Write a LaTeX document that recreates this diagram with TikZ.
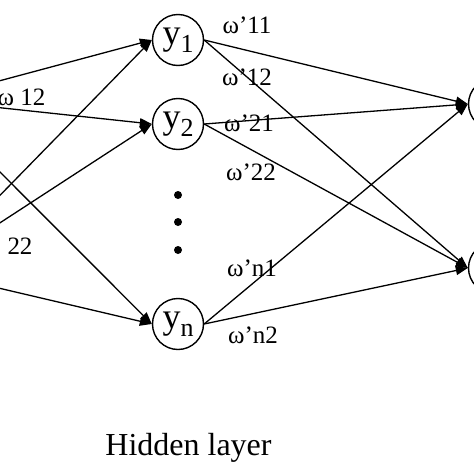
\documentclass[tikz,border=0pt]{standalone}
\usepackage{fontspec}
\setmainfont{Liberation Serif}
\usetikzlibrary{arrows.meta}
\newcommand\ylab[1]{\fontsize{36}{36}\selectfont y\raisebox{-8pt}{\fontsize{26}{26}\selectfont #1}}
\begin{document}
\begin{tikzpicture}[x=1pt,y=-1pt,
  neuron/.style={circle,draw,line width=1.4pt,minimum size=51pt,inner sep=0pt},
  conn/.style={line width=1.3pt,-{Triangle[length=12pt,width=9pt]}},
  wlabel/.style={inner sep=0pt,font=\fontsize{25}{25}\selectfont},
  dotmark/.style={circle,fill,inner sep=0pt,minimum size=8pt}]
\useasboundingbox (0,0) rectangle (474,474);
\clip (0,0) rectangle (474,474);
% input side (off canvas)
\coordinate (x1) at (-72,100);
\coordinate (x2) at (-74,271);
% hidden layer
\node[neuron] (y1) at (178,40) {\ylab{1}};
\node[neuron] (y2) at (178,124) {\ylab{2}};
\node[neuron] (yn) at (178,324) {\ylab{n}};
\node[dotmark] (d1) at (178,195) {};
\node[dotmark] (d2) at (178,222) {};
\node[dotmark] (d3) at (178,250) {};
% output side (mostly off canvas)
\node[neuron] (z1) at (494,104) {};
\node[neuron] (z2) at (494,268) {};
% connectors input -> hidden
\draw[conn] (x1) -- (y1.west);
\draw[conn] (x1) -- (y2.west);
\draw[conn] (x1) -- (yn.west);
\draw[conn] (x2) -- (y1.west);
\draw[conn] (x2) -- (y2.west);
\draw[conn] (x2) -- (yn.west);
% connectors hidden -> output
\draw[conn] (y1.east) -- (z1.west);
\draw[conn] (y1.east) -- (z2.west);
\draw[conn] (y2.east) -- (z1.west);
\draw[conn] (y2.east) -- (z2.west);
\draw[conn] (yn.east) -- (z1.west);
\draw[conn] (yn.east) -- (z2.west);
% weight labels
\node[wlabel,anchor=east] (w12) at (45.5,97) {ω 12};
\node[wlabel] (w22) at (20,246) {22};
\node[wlabel] (v11) at (247,25) {ω’11};
\node[wlabel] (v12) at (247,77) {ω’12};
\node[wlabel] (v21) at (249,123) {ω’21};
\node[wlabel] (v22) at (251,172) {ω’22};
\node[wlabel] (vn1) at (252,268) {ω’n1};
\node[wlabel] (vn2) at (253,335) {ω’n2};
% caption
\node[inner sep=0pt,anchor=base,font=\fontsize{32}{32}\selectfont] (cap) at (188.5,455) {Hidden layer};
\end{tikzpicture}
\end{document}
